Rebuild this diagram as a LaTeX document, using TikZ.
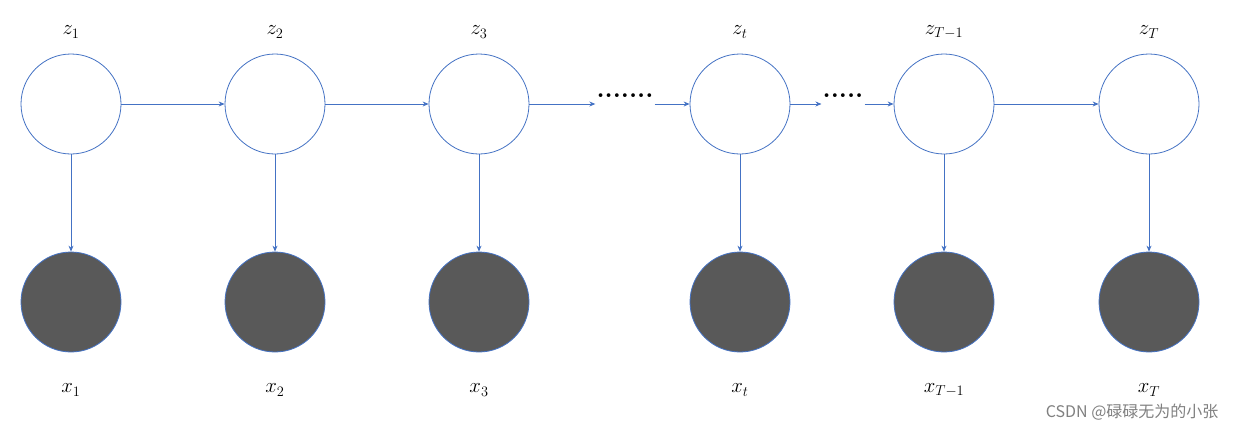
\documentclass[tikz,border=0pt]{standalone}
\usepackage{fontspec}
\newfontfamily\cjk{Noto Sans CJK SC}
\usetikzlibrary{arrows.meta}
\definecolor{lb}{HTML}{4472C4}
\definecolor{dk}{HTML}{595959}
\begin{document}
\begin{tikzpicture}[x=1pt,y=-1pt,
  hid/.style={circle,draw=lb,line width=0.8pt,minimum size=100pt,inner sep=0pt,fill=white},
  obs/.style={circle,draw=lb,line width=0.8pt,minimum size=100pt,inner sep=0pt,fill=dk},
  arr/.style={draw=lb,line width=0.8pt,-{Stealth[length=6pt,width=5pt]}},
  lab/.style={font=\fontsize{22}{26}\selectfont}]
\useasboundingbox (0,0) rectangle (1233,431);
\foreach \n/\x/\s in {1/71/1,2/275/2,3/479/3,t/740/t,m/944/{T-1},T/1149/T}{
  \node[hid] (z\n) at (\x,104) {};
  \node[obs] (x\n) at (\x,302) {};
  \node[lab] (lz\n) at (\x,32) {$z_{\s}$};
  \node[lab] (lx\n) at (\x,390) {$x_{\s}$};
  \draw[arr] (z\n) -- (x\n);
}
\node[font=\bfseries\fontsize{26}{28}\selectfont,inner sep=1pt] (d1) at (625,96) {.......};
\node[font=\bfseries\fontsize{26}{28}\selectfont,inner sep=1pt] (d2) at (843,96) {.....};
\draw[arr] (z1) -- (z2);
\draw[arr] (z2) -- (z3);
\draw[arr] (z3) -- (d1.west|-z3);
\draw[arr] (d1.east|-z3) -- (zt);
\draw[arr] (zt) -- (d2.west|-zt);
\draw[arr] (d2.east|-zt) -- (zm);
\draw[arr] (zm) -- (zT);
\node[font=\cjk\fontsize{16}{18}\selectfont,text=gray,anchor=east] (wm) at (1222,412) {CSDN @碌碌无为的小张};
\end{tikzpicture}
\end{document}
